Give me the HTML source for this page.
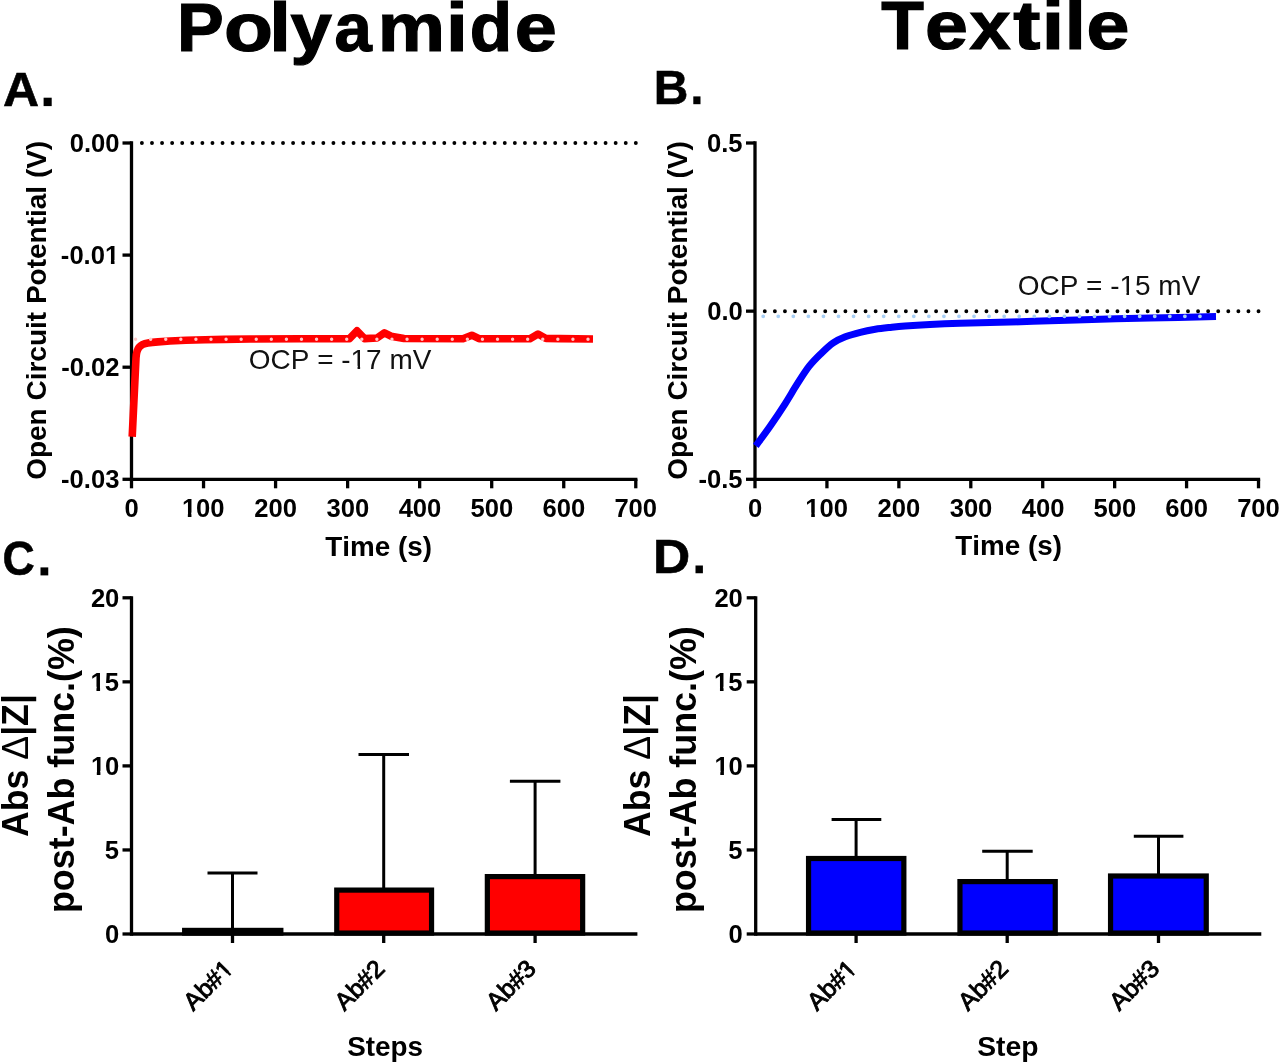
<!DOCTYPE html>
<html><head><meta charset="utf-8"><title>Polyamide vs Textile</title>
<style>
html,body{margin:0;padding:0;background:#fff;}
body{width:1280px;height:1064px;overflow:hidden;}
svg{display:block;filter:blur(0.45px);}
text{font-family:"Liberation Sans",sans-serif;font-kerning:none;}
</style></head><body>
<svg width="1280" height="1064" viewBox="0 0 1280 1064">
<rect width="1280" height="1064" fill="#fff"/>
<text x="177.06" y="51.00" font-size="68.50" font-weight="bold" fill="#000" textLength="46.73" lengthAdjust="spacingAndGlyphs" stroke="#000" stroke-width="1.2">P</text>
<text x="223.97" y="51.00" font-size="68.50" font-weight="bold" fill="#000" textLength="48.96" lengthAdjust="spacingAndGlyphs" stroke="#000" stroke-width="1.2">o</text>
<text x="269.25" y="51.00" font-size="68.50" font-weight="bold" fill="#000" textLength="21.67" lengthAdjust="spacingAndGlyphs" stroke="#000" stroke-width="1.2">l</text>
<text x="290.52" y="51.00" font-size="68.50" font-weight="bold" fill="#000" textLength="41.38" lengthAdjust="spacingAndGlyphs" stroke="#000" stroke-width="1.2">y</text>
<text x="334.43" y="51.00" font-size="68.50" font-weight="bold" fill="#000" textLength="37.34" lengthAdjust="spacingAndGlyphs" stroke="#000" stroke-width="1.2">a</text>
<text x="377.71" y="51.00" font-size="68.50" font-weight="bold" fill="#000" textLength="67.28" lengthAdjust="spacingAndGlyphs" stroke="#000" stroke-width="1.2">m</text>
<text x="445.90" y="51.00" font-size="68.50" font-weight="bold" fill="#000" textLength="21.87" lengthAdjust="spacingAndGlyphs" stroke="#000" stroke-width="1.2">i</text>
<text x="469.65" y="51.00" font-size="68.50" font-weight="bold" fill="#000" textLength="42.43" lengthAdjust="spacingAndGlyphs" stroke="#000" stroke-width="1.2">d</text>
<text x="514.85" y="51.00" font-size="68.50" font-weight="bold" fill="#000" textLength="42.04" lengthAdjust="spacingAndGlyphs" stroke="#000" stroke-width="1.2">e</text>
<text x="881.32" y="49.40" font-size="68.50" font-weight="bold" fill="#000" textLength="42.63" lengthAdjust="spacingAndGlyphs" stroke="#000" stroke-width="1.2">T</text>
<text x="924.98" y="49.40" font-size="68.50" font-weight="bold" fill="#000" textLength="42.96" lengthAdjust="spacingAndGlyphs" stroke="#000" stroke-width="1.2">e</text>
<text x="969.60" y="49.40" font-size="68.50" font-weight="bold" fill="#000" textLength="41.05" lengthAdjust="spacingAndGlyphs" stroke="#000" stroke-width="1.2">x</text>
<text x="1013.20" y="49.40" font-size="68.50" font-weight="bold" fill="#000" textLength="27.19" lengthAdjust="spacingAndGlyphs" stroke="#000" stroke-width="1.2">t</text>
<text x="1041.85" y="49.40" font-size="68.50" font-weight="bold" fill="#000" textLength="22.48" lengthAdjust="spacingAndGlyphs" stroke="#000" stroke-width="1.2">i</text>
<text x="1064.71" y="49.40" font-size="68.50" font-weight="bold" fill="#000" textLength="21.06" lengthAdjust="spacingAndGlyphs" stroke="#000" stroke-width="1.2">l</text>
<text x="1086.58" y="49.40" font-size="68.50" font-weight="bold" fill="#000" textLength="42.96" lengthAdjust="spacingAndGlyphs" stroke="#000" stroke-width="1.2">e</text>
<text x="2.90" y="106.00" font-size="49.00" font-weight="bold" fill="#000" textLength="36.11" lengthAdjust="spacingAndGlyphs" stroke="#000" stroke-width="0.6">A</text>
<rect x="43.60" y="97.70" width="8.10" height="8.40" fill="#000"/>
<text x="653.80" y="104.20" font-size="49.00" font-weight="bold" fill="#000" textLength="34.58" lengthAdjust="spacingAndGlyphs" stroke="#000" stroke-width="0.6">B</text>
<rect x="693.30" y="96.40" width="7.20" height="7.80" fill="#000"/>
<text x="2.57" y="575.30" font-size="49.00" font-weight="bold" fill="#000" textLength="32.25" lengthAdjust="spacingAndGlyphs" stroke="#000" stroke-width="0.6">C</text>
<rect x="40.50" y="567.40" width="7.75" height="8.00" fill="#000"/>
<text x="652.95" y="573.30" font-size="49.00" font-weight="bold" fill="#000" textLength="37.21" lengthAdjust="spacingAndGlyphs" stroke="#000" stroke-width="0.6">D</text>
<rect x="695.50" y="565.50" width="7.40" height="7.75" fill="#000"/>
<line x1="131.50" y1="141.35" x2="131.50" y2="480.95" stroke="#000" stroke-width="3.30" stroke-linecap="butt"/>
<line x1="122.50" y1="143.00" x2="131.50" y2="143.00" stroke="#000" stroke-width="3.30" stroke-linecap="butt"/>
<line x1="122.50" y1="255.10" x2="131.50" y2="255.10" stroke="#000" stroke-width="3.30" stroke-linecap="butt"/>
<line x1="122.50" y1="367.20" x2="131.50" y2="367.20" stroke="#000" stroke-width="3.30" stroke-linecap="butt"/>
<line x1="122.50" y1="479.30" x2="131.50" y2="479.30" stroke="#000" stroke-width="3.30" stroke-linecap="butt"/>
<line x1="131.50" y1="479.30" x2="637.43" y2="479.30" stroke="#000" stroke-width="3.30" stroke-linecap="butt"/>
<line x1="131.50" y1="479.30" x2="131.50" y2="488.30" stroke="#000" stroke-width="3.30" stroke-linecap="butt"/>
<text x="124.40" y="516.60" font-size="25.60" font-weight="bold" fill="#000">0</text>
<line x1="203.54" y1="479.30" x2="203.54" y2="488.30" stroke="#000" stroke-width="3.30" stroke-linecap="butt"/>
<text x="181.90" y="516.60" font-size="25.60" font-weight="bold" fill="#000">100</text><rect x="182.02" y="512.59" width="5.81" height="5.71" fill="#fff"/><rect x="191.44" y="512.59" width="5.49" height="5.71" fill="#fff"/>
<line x1="275.58" y1="479.30" x2="275.58" y2="488.30" stroke="#000" stroke-width="3.30" stroke-linecap="butt"/>
<text x="254.31" y="516.60" font-size="25.60" font-weight="bold" fill="#000">200</text>
<line x1="347.62" y1="479.30" x2="347.62" y2="488.30" stroke="#000" stroke-width="3.30" stroke-linecap="butt"/>
<text x="326.50" y="516.60" font-size="25.60" font-weight="bold" fill="#000">300</text>
<line x1="419.66" y1="479.30" x2="419.66" y2="488.30" stroke="#000" stroke-width="3.30" stroke-linecap="butt"/>
<text x="398.64" y="516.60" font-size="25.60" font-weight="bold" fill="#000">400</text>
<line x1="491.70" y1="479.30" x2="491.70" y2="488.30" stroke="#000" stroke-width="3.30" stroke-linecap="butt"/>
<text x="470.48" y="516.60" font-size="25.60" font-weight="bold" fill="#000">500</text>
<line x1="563.74" y1="479.30" x2="563.74" y2="488.30" stroke="#000" stroke-width="3.30" stroke-linecap="butt"/>
<text x="542.44" y="516.60" font-size="25.60" font-weight="bold" fill="#000">600</text>
<line x1="635.78" y1="479.30" x2="635.78" y2="488.30" stroke="#000" stroke-width="3.30" stroke-linecap="butt"/>
<text x="614.40" y="516.60" font-size="25.60" font-weight="bold" fill="#000">700</text>
<text x="69.72" y="151.90" font-size="25.60" font-weight="bold" fill="#000">0.00</text>
<text x="60.86" y="264.00" font-size="25.60" font-weight="bold" fill="#000">-0.01</text><rect x="105.09" y="259.99" width="5.81" height="5.71" fill="#fff"/><rect x="114.51" y="259.99" width="5.49" height="5.71" fill="#fff"/>
<text x="61.17" y="376.10" font-size="25.60" font-weight="bold" fill="#000">-0.02</text>
<text x="61.07" y="488.20" font-size="25.60" font-weight="bold" fill="#000">-0.03</text>
<text x="325.29" y="556.00" font-size="27.00" font-weight="bold" fill="#000" textLength="106.70" lengthAdjust="spacingAndGlyphs">Time (s)</text>
<g transform="translate(45.60 478.70) rotate(-90.00)"><text x="-1.15" y="0.00" font-size="27.50" font-weight="bold" fill="#000" textLength="339.04" lengthAdjust="spacingAndGlyphs">Open Circuit Potential (V)</text></g>
<line x1="755.00" y1="141.35" x2="755.00" y2="480.95" stroke="#000" stroke-width="3.30" stroke-linecap="butt"/>
<line x1="746.00" y1="143.00" x2="755.00" y2="143.00" stroke="#000" stroke-width="3.30" stroke-linecap="butt"/>
<line x1="746.00" y1="311.15" x2="755.00" y2="311.15" stroke="#000" stroke-width="3.30" stroke-linecap="butt"/>
<line x1="746.00" y1="479.30" x2="755.00" y2="479.30" stroke="#000" stroke-width="3.30" stroke-linecap="butt"/>
<line x1="755.00" y1="479.30" x2="1260.16" y2="479.30" stroke="#000" stroke-width="3.30" stroke-linecap="butt"/>
<line x1="755.00" y1="479.30" x2="755.00" y2="488.30" stroke="#000" stroke-width="3.30" stroke-linecap="butt"/>
<text x="747.90" y="516.60" font-size="25.60" font-weight="bold" fill="#000">0</text>
<line x1="826.93" y1="479.30" x2="826.93" y2="488.30" stroke="#000" stroke-width="3.30" stroke-linecap="butt"/>
<text x="805.29" y="516.60" font-size="25.60" font-weight="bold" fill="#000">100</text><rect x="805.40" y="512.59" width="5.81" height="5.71" fill="#fff"/><rect x="814.83" y="512.59" width="5.49" height="5.71" fill="#fff"/>
<line x1="898.86" y1="479.30" x2="898.86" y2="488.30" stroke="#000" stroke-width="3.30" stroke-linecap="butt"/>
<text x="877.59" y="516.60" font-size="25.60" font-weight="bold" fill="#000">200</text>
<line x1="970.79" y1="479.30" x2="970.79" y2="488.30" stroke="#000" stroke-width="3.30" stroke-linecap="butt"/>
<text x="949.66" y="516.60" font-size="25.60" font-weight="bold" fill="#000">300</text>
<line x1="1042.72" y1="479.30" x2="1042.72" y2="488.30" stroke="#000" stroke-width="3.30" stroke-linecap="butt"/>
<text x="1021.70" y="516.60" font-size="25.60" font-weight="bold" fill="#000">400</text>
<line x1="1114.65" y1="479.30" x2="1114.65" y2="488.30" stroke="#000" stroke-width="3.30" stroke-linecap="butt"/>
<text x="1093.43" y="516.60" font-size="25.60" font-weight="bold" fill="#000">500</text>
<line x1="1186.58" y1="479.30" x2="1186.58" y2="488.30" stroke="#000" stroke-width="3.30" stroke-linecap="butt"/>
<text x="1165.28" y="516.60" font-size="25.60" font-weight="bold" fill="#000">600</text>
<line x1="1258.51" y1="479.30" x2="1258.51" y2="488.30" stroke="#000" stroke-width="3.30" stroke-linecap="butt"/>
<text x="1237.13" y="516.60" font-size="25.60" font-weight="bold" fill="#000">700</text>
<text x="706.92" y="151.90" font-size="25.60" font-weight="bold" fill="#000">0.5</text>
<text x="707.26" y="320.05" font-size="25.60" font-weight="bold" fill="#000">0.0</text>
<text x="698.40" y="488.20" font-size="25.60" font-weight="bold" fill="#000">-0.5</text>
<text x="955.29" y="555.00" font-size="27.00" font-weight="bold" fill="#000" textLength="106.70" lengthAdjust="spacingAndGlyphs">Time (s)</text>
<g transform="translate(686.50 478.70) rotate(-90.00)"><text x="-1.15" y="0.00" font-size="27.50" font-weight="bold" fill="#000" textLength="338.74" lengthAdjust="spacingAndGlyphs">Open Circuit Potential (V)</text></g>
<line x1="141.90" y1="143.00" x2="636.50" y2="143.00" stroke="#000" stroke-width="3.90" stroke-linecap="round" stroke-dasharray="0 10.080"/>
<line x1="764.80" y1="311.20" x2="1259.00" y2="311.20" stroke="#000" stroke-width="3.90" stroke-linecap="round" stroke-dasharray="0 10.076"/>
<path d="M132.2,436.8 L136.0,358 C136.5,348.5 139.5,344.2 148,343.0 C152,342.5 155,342.2 158,341.9 L170.0,341.0 L186.0,340.3 L205.0,339.8 L224.0,339.4 L250.0,339.0 L300.0,338.8 L349.5,338.7 L357.0,330.8 L364.5,338.6 L377.0,338.0 L384.4,332.8 L391.0,336.2 L404.0,338.5 L463.0,338.7 L471.8,335.2 L479.0,338.7 L530.0,338.7 L538.0,334.0 L546.0,338.5 L560.0,338.6 L593.0,339.0" fill="none" stroke="#ff0000" stroke-width="7.6" stroke-linejoin="round"/>
<line x1="135.60" y1="339.20" x2="592.00" y2="339.20" stroke="#ffc8c8" stroke-width="3.40" stroke-linecap="round" stroke-dasharray="0 15.080"/>
<path d="M755.80,445.90 C758.18,442.63 765.22,433.32 770.10,426.30 C774.98,419.28 780.60,410.82 785.10,403.80 C789.60,396.78 793.08,390.47 797.10,384.20 C801.12,377.93 805.18,371.33 809.20,366.20 C813.22,361.07 817.20,357.28 821.20,353.40 C825.20,349.52 829.18,345.67 833.20,342.90 C837.22,340.13 840.78,338.57 845.30,336.80 C849.82,335.03 855.30,333.55 860.30,332.30 C865.30,331.05 870.28,330.12 875.30,329.30 C880.32,328.48 885.45,327.95 890.40,327.40 C895.35,326.85 898.40,326.48 905.00,326.00 C911.60,325.52 920.83,324.95 930.00,324.50 C939.17,324.05 948.33,323.67 960.00,323.30 C971.67,322.93 985.00,322.72 1000.00,322.30 C1015.00,321.88 1033.33,321.30 1050.00,320.80 C1066.67,320.30 1083.33,319.77 1100.00,319.30 C1116.67,318.83 1130.67,318.45 1150.00,318.00 C1169.33,317.55 1205.00,316.83 1216.00,316.60" fill="none" stroke="#0000ff" stroke-width="7" stroke-linejoin="round"/>
<line x1="763.20" y1="316.30" x2="1206.00" y2="316.30" stroke="#a8cff5" stroke-width="3.80" stroke-linecap="round" stroke-dasharray="0 15.060"/>
<text x="248.88" y="369.30" font-size="27.80" font-weight="normal" fill="#111" textLength="182.45" lengthAdjust="spacingAndGlyphs">OCP = -17 mV</text><rect x="351.20" y="365.82" width="6.35" height="5.18" fill="#fff"/><rect x="360.12" y="365.82" width="6.13" height="5.18" fill="#fff"/>
<text x="1017.68" y="295.30" font-size="27.80" font-weight="normal" fill="#111" textLength="182.65" lengthAdjust="spacingAndGlyphs">OCP = -15 mV</text><rect x="1120.11" y="291.82" width="6.35" height="5.18" fill="#fff"/><rect x="1129.04" y="291.82" width="6.13" height="5.18" fill="#fff"/>
<line x1="232.50" y1="873.10" x2="232.50" y2="931.00" stroke="#000" stroke-width="3.00" stroke-linecap="butt"/>
<line x1="207.50" y1="873.10" x2="257.50" y2="873.10" stroke="#000" stroke-width="3.00" stroke-linecap="butt"/>
<line x1="383.70" y1="754.60" x2="383.70" y2="931.00" stroke="#000" stroke-width="3.00" stroke-linecap="butt"/>
<line x1="358.50" y1="754.60" x2="409.00" y2="754.60" stroke="#000" stroke-width="3.00" stroke-linecap="butt"/>
<line x1="535.10" y1="781.20" x2="535.10" y2="931.00" stroke="#000" stroke-width="3.00" stroke-linecap="butt"/>
<line x1="509.90" y1="781.20" x2="560.40" y2="781.20" stroke="#000" stroke-width="3.00" stroke-linecap="butt"/>
<rect x="184.65" y="930.40" width="96.20" height="2.65" fill="#ff0000" stroke="#000" stroke-width="5.2"/>
<rect x="336.75" y="890.10" width="94.80" height="42.95" fill="#ff0000" stroke="#000" stroke-width="5.2"/>
<rect x="487.35" y="876.60" width="95.30" height="56.45" fill="#ff0000" stroke="#000" stroke-width="5.2"/>
<line x1="131.50" y1="596.15" x2="131.50" y2="935.65" stroke="#000" stroke-width="3.30" stroke-linecap="butt"/>
<line x1="122.50" y1="597.80" x2="131.50" y2="597.80" stroke="#000" stroke-width="3.30" stroke-linecap="butt"/>
<text x="90.88" y="606.70" font-size="25.60" font-weight="bold" fill="#000">20</text>
<line x1="122.50" y1="681.85" x2="131.50" y2="681.85" stroke="#000" stroke-width="3.30" stroke-linecap="butt"/>
<text x="90.54" y="690.75" font-size="25.60" font-weight="bold" fill="#000">15</text><rect x="90.65" y="686.74" width="5.81" height="5.71" fill="#fff"/><rect x="100.07" y="686.74" width="5.49" height="5.71" fill="#fff"/>
<line x1="122.50" y1="765.90" x2="131.50" y2="765.90" stroke="#000" stroke-width="3.30" stroke-linecap="butt"/>
<text x="90.88" y="774.80" font-size="25.60" font-weight="bold" fill="#000">10</text><rect x="90.99" y="770.79" width="5.81" height="5.71" fill="#fff"/><rect x="100.41" y="770.79" width="5.49" height="5.71" fill="#fff"/>
<line x1="122.50" y1="849.95" x2="131.50" y2="849.95" stroke="#000" stroke-width="3.30" stroke-linecap="butt"/>
<text x="104.77" y="858.85" font-size="25.60" font-weight="bold" fill="#000">5</text>
<line x1="122.50" y1="934.00" x2="131.50" y2="934.00" stroke="#000" stroke-width="3.30" stroke-linecap="butt"/>
<text x="105.11" y="942.90" font-size="25.60" font-weight="bold" fill="#000">0</text>
<line x1="131.50" y1="934.00" x2="637.40" y2="934.00" stroke="#000" stroke-width="3.30" stroke-linecap="butt"/>
<line x1="232.50" y1="934.00" x2="232.50" y2="943.00" stroke="#000" stroke-width="3.30" stroke-linecap="butt"/>
<g transform="translate(234.00 971.00) rotate(-45.00)"><text x="-57.55" y="0.00" font-size="24.50" font-weight="normal" fill="#000" textLength="58.78" lengthAdjust="spacingAndGlyphs" stroke="#000" stroke-width="0.9">Ab#1</text><rect x="-12.45" y="-3.23" width="5.96" height="5.03" fill="#fff"/><rect x="-4.17" y="-3.23" width="5.77" height="5.03" fill="#fff"/></g>
<line x1="383.70" y1="934.00" x2="383.70" y2="943.00" stroke="#000" stroke-width="3.30" stroke-linecap="butt"/>
<g transform="translate(385.20 971.00) rotate(-45.00)"><text x="-57.55" y="0.00" font-size="24.50" font-weight="normal" fill="#000" textLength="58.82" lengthAdjust="spacingAndGlyphs" stroke="#000" stroke-width="0.9">Ab#2</text></g>
<line x1="535.10" y1="934.00" x2="535.10" y2="943.00" stroke="#000" stroke-width="3.30" stroke-linecap="butt"/>
<g transform="translate(536.60 971.00) rotate(-45.00)"><text x="-57.55" y="0.00" font-size="24.50" font-weight="normal" fill="#000" textLength="58.65" lengthAdjust="spacingAndGlyphs" stroke="#000" stroke-width="0.9">Ab#3</text></g>
<text x="347.20" y="1056.30" font-size="27.50" font-weight="bold" fill="#000" textLength="75.84" lengthAdjust="spacingAndGlyphs">Steps</text>
<g transform="translate(74.30 910.70) rotate(-90.00)"><text x="-2.36" y="0.00" font-size="37.00" font-weight="bold" fill="#000" textLength="286.85" lengthAdjust="spacingAndGlyphs">post-Ab func.(%)</text></g>
<g transform="translate(28.20 836.00) rotate(-90.00)"><text x="-0.88" y="0.00" font-size="37.00" font-weight="bold" fill="#000" textLength="142.74" lengthAdjust="spacingAndGlyphs">Abs <tspan font-weight="normal">Δ</tspan>|Z|</text></g>
<line x1="856.10" y1="819.40" x2="856.10" y2="931.00" stroke="#000" stroke-width="3.00" stroke-linecap="butt"/>
<line x1="831.60" y1="819.40" x2="881.30" y2="819.40" stroke="#000" stroke-width="3.00" stroke-linecap="butt"/>
<line x1="1007.20" y1="851.30" x2="1007.20" y2="931.00" stroke="#000" stroke-width="3.00" stroke-linecap="butt"/>
<line x1="982.20" y1="851.30" x2="1032.70" y2="851.30" stroke="#000" stroke-width="3.00" stroke-linecap="butt"/>
<line x1="1158.50" y1="836.20" x2="1158.50" y2="931.00" stroke="#000" stroke-width="3.00" stroke-linecap="butt"/>
<line x1="1133.80" y1="836.20" x2="1183.40" y2="836.20" stroke="#000" stroke-width="3.00" stroke-linecap="butt"/>
<rect x="808.55" y="858.50" width="95.30" height="74.55" fill="#0000ff" stroke="#000" stroke-width="5.2"/>
<rect x="959.95" y="881.60" width="95.30" height="51.45" fill="#0000ff" stroke="#000" stroke-width="5.2"/>
<rect x="1110.55" y="876.00" width="95.70" height="57.05" fill="#0000ff" stroke="#000" stroke-width="5.2"/>
<line x1="755.70" y1="596.15" x2="755.70" y2="935.65" stroke="#000" stroke-width="3.30" stroke-linecap="butt"/>
<line x1="746.70" y1="597.80" x2="755.70" y2="597.80" stroke="#000" stroke-width="3.30" stroke-linecap="butt"/>
<text x="714.38" y="606.70" font-size="25.60" font-weight="bold" fill="#000">20</text>
<line x1="746.70" y1="681.85" x2="755.70" y2="681.85" stroke="#000" stroke-width="3.30" stroke-linecap="butt"/>
<text x="714.04" y="690.75" font-size="25.60" font-weight="bold" fill="#000">15</text><rect x="714.15" y="686.74" width="5.81" height="5.71" fill="#fff"/><rect x="723.57" y="686.74" width="5.49" height="5.71" fill="#fff"/>
<line x1="746.70" y1="765.90" x2="755.70" y2="765.90" stroke="#000" stroke-width="3.30" stroke-linecap="butt"/>
<text x="714.38" y="774.80" font-size="25.60" font-weight="bold" fill="#000">10</text><rect x="714.49" y="770.79" width="5.81" height="5.71" fill="#fff"/><rect x="723.91" y="770.79" width="5.49" height="5.71" fill="#fff"/>
<line x1="746.70" y1="849.95" x2="755.70" y2="849.95" stroke="#000" stroke-width="3.30" stroke-linecap="butt"/>
<text x="728.27" y="858.85" font-size="25.60" font-weight="bold" fill="#000">5</text>
<line x1="746.70" y1="934.00" x2="755.70" y2="934.00" stroke="#000" stroke-width="3.30" stroke-linecap="butt"/>
<text x="728.61" y="942.90" font-size="25.60" font-weight="bold" fill="#000">0</text>
<line x1="755.70" y1="934.00" x2="1261.30" y2="934.00" stroke="#000" stroke-width="3.30" stroke-linecap="butt"/>
<line x1="856.10" y1="934.00" x2="856.10" y2="943.00" stroke="#000" stroke-width="3.30" stroke-linecap="butt"/>
<g transform="translate(857.60 971.00) rotate(-45.00)"><text x="-57.55" y="0.00" font-size="24.50" font-weight="normal" fill="#000" textLength="58.78" lengthAdjust="spacingAndGlyphs" stroke="#000" stroke-width="0.9">Ab#1</text><rect x="-12.45" y="-3.23" width="5.96" height="5.03" fill="#fff"/><rect x="-4.17" y="-3.23" width="5.77" height="5.03" fill="#fff"/></g>
<line x1="1007.20" y1="934.00" x2="1007.20" y2="943.00" stroke="#000" stroke-width="3.30" stroke-linecap="butt"/>
<g transform="translate(1008.70 971.00) rotate(-45.00)"><text x="-57.55" y="0.00" font-size="24.50" font-weight="normal" fill="#000" textLength="58.82" lengthAdjust="spacingAndGlyphs" stroke="#000" stroke-width="0.9">Ab#2</text></g>
<line x1="1158.50" y1="934.00" x2="1158.50" y2="943.00" stroke="#000" stroke-width="3.30" stroke-linecap="butt"/>
<g transform="translate(1160.00 971.00) rotate(-45.00)"><text x="-57.55" y="0.00" font-size="24.50" font-weight="normal" fill="#000" textLength="58.65" lengthAdjust="spacingAndGlyphs" stroke="#000" stroke-width="0.9">Ab#3</text></g>
<text x="977.19" y="1056.30" font-size="27.50" font-weight="bold" fill="#000" textLength="61.27" lengthAdjust="spacingAndGlyphs">Step</text>
<g transform="translate(696.00 910.70) rotate(-90.00)"><text x="-2.36" y="0.00" font-size="37.00" font-weight="bold" fill="#000" textLength="286.85" lengthAdjust="spacingAndGlyphs">post-Ab func.(%)</text></g>
<g transform="translate(650.10 836.00) rotate(-90.00)"><text x="-0.88" y="0.00" font-size="37.00" font-weight="bold" fill="#000" textLength="142.74" lengthAdjust="spacingAndGlyphs">Abs <tspan font-weight="normal">Δ</tspan>|Z|</text></g>
</svg>
</body></html>
